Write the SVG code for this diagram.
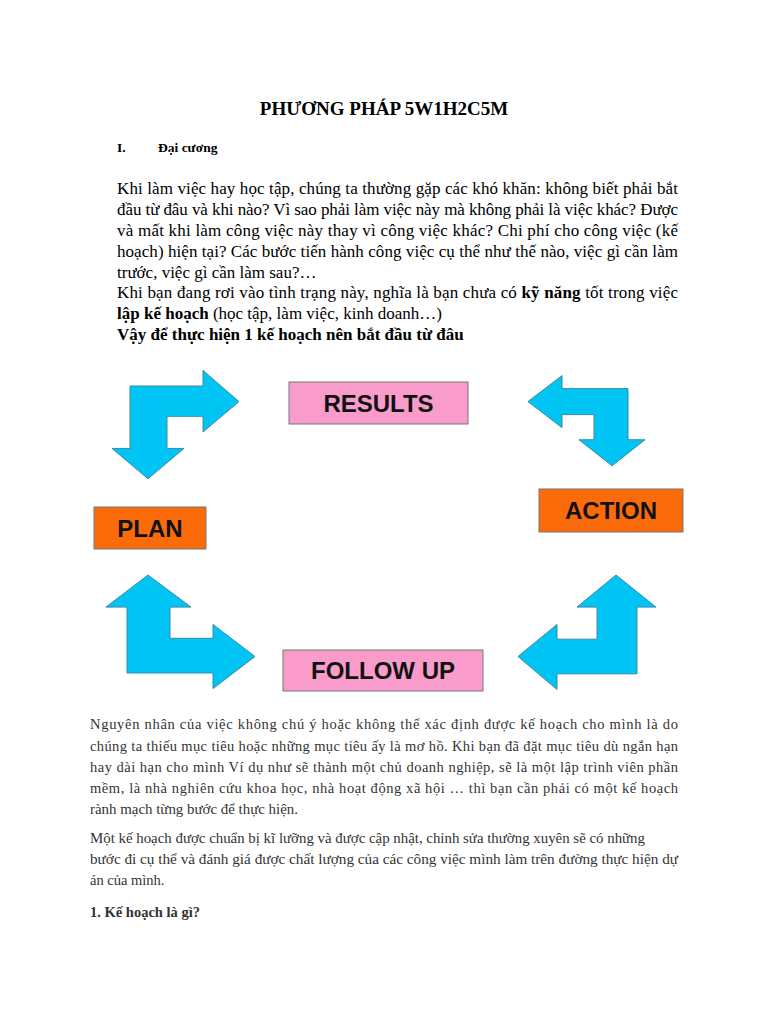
<svg xmlns="http://www.w3.org/2000/svg" width="768" height="1024" viewBox="0 0 768 1024">
<style>
.t{font-family:"Liberation Serif",serif;fill:#000}
.p{font-size:17px}
.s{font-size:14.5px;fill:#333}
.arr{fill:#00c4f4;stroke:#3a8aa8;stroke-width:1;vector-effect:non-scaling-stroke}
.lbl{font-family:"Liberation Sans",Arial,sans-serif;font-weight:bold;font-size:24px;fill:#111;text-anchor:middle}
.pink{fill:#f99ccc;stroke:#777;stroke-width:1}
.orange{fill:#fb6b0a;stroke:#777;stroke-width:1}
</style>
<rect width="768" height="1024" fill="#fff"/>
<text class="t" x="384" y="115" font-size="19" font-weight="bold" text-anchor="middle">PHƯƠNG PHÁP 5W1H2C5M</text>
<text class="t" x="117" y="152" font-size="13.5" font-weight="bold">I.</text>
<text class="t" x="158" y="152" font-size="13.5" font-weight="bold">Đại cương</text>
<g class="t p">
<text x="117" y="194" textLength="561" lengthAdjust="spacing">Khi làm việc hay học tập, chúng ta thường gặp các khó khăn: không biết phải bắt</text>
<text x="117" y="215" textLength="561" lengthAdjust="spacing">đầu từ đâu và khi nào? Vì sao phải làm việc này mà không phải là việc khác? Được</text>
<text x="117" y="236" textLength="561" lengthAdjust="spacing">và mất khi làm công việc này thay vì công việc khác? Chi phí cho công việc (kế</text>
<text x="117" y="257" textLength="561" lengthAdjust="spacing">hoạch) hiện tại? Các bước tiến hành công việc cụ thể như thế nào, việc gì cần làm</text>
<text x="117" y="278">trước, việc gì cần làm sau?…</text>
<text x="117" y="298" textLength="561" lengthAdjust="spacing">Khi bạn đang rơi vào tình trạng này, nghĩa là bạn chưa có <tspan font-weight="bold">kỹ năng</tspan> tốt trong việc</text>
<text x="117" y="319"><tspan font-weight="bold">lập kế hoạch</tspan> (học tập, làm việc, kinh doanh…)</text>
<text x="117" y="340" font-weight="bold">Vậy để thực hiện 1 kế hoạch nên bắt đầu từ đâu</text>
</g>
<g id="arrows" transform="translate(0,360) scale(1,0.867) translate(0,-360)">
<polygon class="arr" points="130,390 203,390 203,372 239,408 203,443 203,425 167,425 167,462 184,462 148,497 112,462 130,462"/>
<polygon class="arr" points="528,408 562,378 562,393 628,393 628,452 645,452 612,482 579,452 594,452 594,423 562,423 562,438"/>
<polygon class="arr" points="148,608 191,645 170,645 170,681 213,681 213,665 255,702 213,739 213,721 127,721 127,645 106,645"/>
<polygon class="arr" points="616,608 656,645 637,645 637,722 557,722 557,740 518,702 557,665 557,682 597,682 597,645 577,645"/>
</g>
<g id="results"><rect class="pink" x="289" y="382" width="179" height="42"/><text class="lbl" x="378.5" y="412">RESULTS</text></g>
<g id="action"><rect class="orange" x="539" y="489" width="144" height="43"/><text class="lbl" x="611" y="519">ACTION</text></g>
<g id="plan"><rect class="orange" x="94" y="507" width="112" height="42"/><text class="lbl" x="150" y="537">PLAN</text></g>
<g id="followup"><rect class="pink" x="283" y="650" width="200" height="41"/><text class="lbl" x="383" y="679">FOLLOW UP</text></g>
<g class="t s">
<text x="90" y="729" textLength="588" lengthAdjust="spacing">Nguyên nhân của việc không chú ý hoặc không thể xác định được kế hoạch cho mình là do</text>
<text x="90" y="751" textLength="588" lengthAdjust="spacing">chúng ta thiếu mục tiêu hoặc những mục tiêu ấy là mơ hồ. Khi bạn đã đặt mục tiêu dù ngắn hạn</text>
<text x="90" y="772" textLength="588" lengthAdjust="spacing">hay dài hạn cho mình Ví dụ như sẽ thành một chủ doanh nghiệp, sẽ là một lập trình viên phần</text>
<text x="90" y="793" textLength="588" lengthAdjust="spacing">mềm, là nhà nghiên cứu khoa học, nhà hoạt động xã hội … thì bạn cần phải có một kế hoạch</text>
<text x="90" y="814" textLength="208" lengthAdjust="spacingAndGlyphs">rành mạch từng bước để thực hiện.</text>
<text x="90" y="843" textLength="555" lengthAdjust="spacingAndGlyphs">Một kế hoạch được chuẩn bị kĩ lưỡng và được cập nhật, chỉnh sửa thường xuyên sẽ có những</text>
<text x="90" y="864" textLength="588" lengthAdjust="spacingAndGlyphs">bước đi cụ thể và đánh giá được chất lượng của các công việc mình làm trên đường thực hiện dự</text>
<text x="90" y="885">án của mình.</text>
<text x="90" y="917" font-weight="bold">1. Kế hoạch là gì?</text>
</g>
</svg>
